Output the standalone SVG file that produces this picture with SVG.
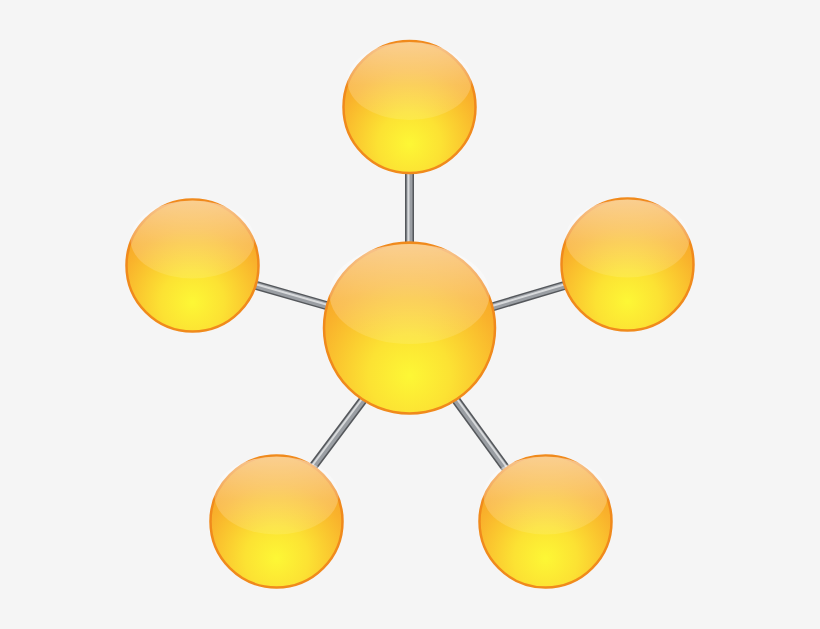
<svg xmlns="http://www.w3.org/2000/svg" width="820" height="629" viewBox="0 0 820 629">
<defs>
<radialGradient id="base" cx="0.5" cy="0.78" r="0.8" fx="0.5" fy="0.78">
<stop offset="0" stop-color="#fdf735"/>
<stop offset="0.3" stop-color="#fce233"/>
<stop offset="0.7" stop-color="#f9b22c"/>
<stop offset="1" stop-color="#f59c20"/>
</radialGradient>
<linearGradient id="gloss" x1="0" y1="0" x2="0" y2="1">
<stop offset="0" stop-color="#ffffff" stop-opacity="0.5"/>
<stop offset="0.55" stop-color="#ffffff" stop-opacity="0.22"/>
<stop offset="1" stop-color="#ffffff" stop-opacity="0.1"/>
</linearGradient>
<style>
.rim{fill:url(#base);stroke:#f08a1c;stroke-width:2.5}
.gl{fill:url(#gloss)}
.rodo{stroke:#55585c;stroke-width:9;stroke-linecap:butt}
.rodm{stroke:#9a9ea3;stroke-width:6}
.rodi{stroke:#d8dadc;stroke-width:2}
</style>
</defs>
<rect width="820" height="629" fill="#f5f5f5"/>
<g id="connectors">
<g><line class="rodo" x1="409.5" y1="170" x2="409.5" y2="245"/><line class="rodm" x1="409.5" y1="170" x2="409.5" y2="245"/><line class="rodi" x1="408.5" y1="170" x2="408.5" y2="245"/></g>
<g><line class="rodo" x1="255" y1="285" x2="328" y2="306"/><line class="rodm" x1="255" y1="285" x2="328" y2="306"/><line class="rodi" x1="255" y1="284" x2="328" y2="305"/></g>
<g><line class="rodo" x1="492" y1="307" x2="566" y2="285"/><line class="rodm" x1="492" y1="307" x2="566" y2="285"/><line class="rodi" x1="492" y1="306" x2="566" y2="284"/></g>
<g><line class="rodo" x1="363" y1="400" x2="312" y2="468"/><line class="rodm" x1="363" y1="400" x2="312" y2="468"/><line class="rodi" x1="362" y1="399" x2="311" y2="467"/></g>
<g><line class="rodo" x1="456" y1="400" x2="507" y2="470"/><line class="rodm" x1="456" y1="400" x2="507" y2="470"/><line class="rodi" x1="457" y1="399" x2="508" y2="469"/></g>
</g>
<g id="node-top"><circle class="rim" cx="409.5" cy="107" r="66"/><ellipse class="gl" cx="409.5" cy="81" rx="62" ry="39"/></g>
<g id="node-left"><circle class="rim" cx="192.5" cy="265.5" r="66"/><ellipse class="gl" cx="192.5" cy="239.5" rx="62" ry="39"/></g>
<g id="node-right"><circle class="rim" cx="627.5" cy="264.5" r="66"/><ellipse class="gl" cx="627.5" cy="238.5" rx="62" ry="39"/></g>
<g id="node-bottom-left"><circle class="rim" cx="276.5" cy="521.5" r="66"/><ellipse class="gl" cx="276.5" cy="495.5" rx="62" ry="39"/></g>
<g id="node-bottom-right"><circle class="rim" cx="545.5" cy="521.5" r="66"/><ellipse class="gl" cx="545.5" cy="495.5" rx="62" ry="39"/></g>
<g id="node-center"><circle class="rim" cx="409.5" cy="328" r="85.5"/><ellipse class="gl" cx="409.5" cy="294" rx="80" ry="50"/></g>
</svg>
